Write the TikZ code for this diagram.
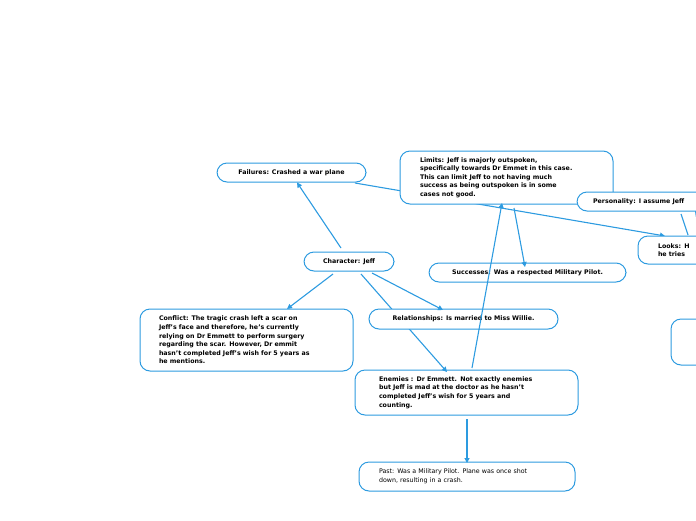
\documentclass[tikz,border=0pt]{standalone}
\usepackage{fontspec}
\setmainfont{DejaVu Sans}
\usetikzlibrary{arrows.meta}
\definecolor{mblue}{HTML}{2D9BE0}
\begin{document}
\begin{tikzpicture}[x=1pt,y=-1pt,
 box/.style={draw=mblue,line width=1pt,rounded corners=10pt,fill=white,inner ysep=0pt,align=left,font=\fontsize{6.3}{8.6}\selectfont\bfseries},
 lnk/.style={draw=mblue,line width=1.1pt,-{Triangle[length=5pt,width=5pt]}}]
\useasboundingbox (0,0) rectangle (696,520);
% connectors first (under nodes)
\coordinate (fl) at (355,183);
\coordinate (lk) at (665,236);
\draw[lnk] (fl) -- (lk);
\node[box,minimum width=149pt,minimum height=19pt,align=center,inner xsep=2pt] (fail) at (291.5,172.5) {Failures: Crashed a war plane};
\node[box,minimum width=213pt,minimum height=53pt,text width=173pt,inner xsep=20pt] (lim) at (506.5,177.5) {Limits: Jeff is majorly outspoken,\\specifically towards Dr Emmet in this case.\\This can limit Jeff to not having much\\success as being outspoken is in some\\cases not good.};
\node[box,minimum width=190pt,minimum height=19pt,text width=160pt,inner xsep=16pt] (pers) at (673,201.5) {Personality: I assume Jeff};
\node[box,minimum width=130pt,minimum height=28pt,text width=100pt,inner xsep=20pt] (looks) at (708,250) {Looks: H\\he tries};
\node[box,minimum width=90pt,minimum height=46pt] (other) at (716,342) {};
\coordinate (lkt) at (688,235);
\coordinate (pst) at (681,214);
\draw[mblue,line width=1.1pt] (lkt) -- (pst);
\coordinate (pa) at (700,218);
\coordinate (pb) at (695,211);
\draw[lnk] (pa) -- (pb);
\node[box,minimum width=90pt,minimum height=19pt,align=center,inner xsep=2pt] (char) at (349,261.5) {Character: Jeff};
\node[box,minimum width=197pt,minimum height=19pt,align=center,inner xsep=2pt] (succ) at (527.5,272.5) {Successes: Was a respected Military Pilot.};
\node[box,minimum width=213pt,minimum height=62pt,text width=175pt,inner xsep=19pt] (conf) at (246.5,340) {Conflict: The tragic crash left a scar on\\Jeff's face and therefore, he's currently\\relying on Dr Emmett to perform surgery\\regarding the scar. However, Dr emmit\\hasn't completed Jeff's wish for 5 years as\\he mentions.};
\node[box,minimum width=223pt,minimum height=45pt,text width=175pt,inner xsep=24pt] (enem) at (466.5,392.5) {Enemies : Dr Emmett. Not exactly enemies\\but Jeff is mad at the doctor as he hasn't\\completed Jeff's wish for 5 years and\\counting.};
\node[box,minimum width=216pt,minimum height=29pt,text width=176pt,inner xsep=20pt,font=\fontsize{6.3}{8.6}\selectfont] (past) at (467,476.5) {Past: Was a Military Pilot. Plane was once shot\\down, resulting in a crash.};
% connectors
\coordinate (c1) at (341,248);
\draw[lnk] (c1) -- (fail.south -| 297,0);
\coordinate (c2) at (333,274);
\coordinate (c2e) at (287,309);
\draw[lnk] (c2) -- (c2e);
\coordinate (c3) at (361,274);
\coordinate (c3e) at (447,372);
\draw[lnk] (c3) -- (c3e);
\node[box,minimum width=189pt,minimum height=20pt,align=center,inner xsep=2pt] (rel) at (463.5,319) {Relationships: Is married to Miss Willie.};
\coordinate (c4) at (372,273);
\coordinate (c4e) at (443,310);
\draw[lnk] (c4) -- (c4e);
\coordinate (e1) at (472,368);
\coordinate (e1e) at (502,203);
\draw[lnk] (e1) -- (e1e);
\coordinate (l1) at (514,208);
\coordinate (l1e) at (525,267);
\draw[lnk] (l1) -- (l1e);
\coordinate (e2) at (467,419);
\coordinate (e2e) at (467,463);
\draw[lnk] (e2) -- (e2e);
\end{tikzpicture}
\end{document}
